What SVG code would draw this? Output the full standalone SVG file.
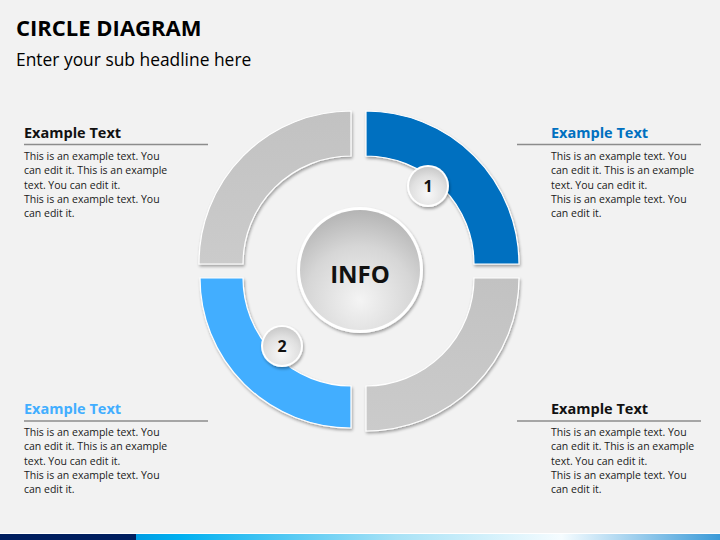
<svg xmlns="http://www.w3.org/2000/svg" width="720" height="540" viewBox="0 0 720 540">
<defs>
<style>
.title{font-family:"Open Sans","Liberation Sans",sans-serif;font-weight:bold;font-size:22px;fill:#000}
.sub{font-family:"Open Sans","Liberation Sans",sans-serif;font-size:17.4px;fill:#000}
.head{font-family:"Open Sans","Liberation Sans",sans-serif;font-weight:bold;font-size:14.5px}
.body{font-family:"Open Sans","Liberation Sans",sans-serif;font-size:10.5px;fill:#1a1a1a}
.rule{stroke:#8c8c8c;stroke-width:1.5}
.seg{stroke:#ffffff;stroke-width:1.2;filter:url(#sh)}
.badgeT{font-family:"Open Sans","Liberation Sans",sans-serif;font-weight:bold;font-size:16px;fill:#111;text-anchor:middle}
</style>
<filter id="sh" x="-20%" y="-20%" width="140%" height="140%">
<feGaussianBlur in="SourceAlpha" stdDeviation="1.5"/>
<feOffset dx="1" dy="1.5" result="b"/>
<feComponentTransfer><feFuncA type="linear" slope="0.35"/></feComponentTransfer>
<feMerge><feMergeNode/><feMergeNode in="SourceGraphic"/></feMerge>
</filter>
<linearGradient id="grey1" x1="0" y1="0" x2="0" y2="1">
<stop offset="0" stop-color="#c2c2c2"/><stop offset="1" stop-color="#cbcbcb"/>
</linearGradient>
<radialGradient id="ball" cx="0.5" cy="0.75" r="0.75">
<stop offset="0" stop-color="#f4f4f4"/><stop offset="0.6" stop-color="#d6d6d6"/><stop offset="1" stop-color="#b4b4b4"/>
</radialGradient>
<radialGradient id="ball2" cx="0.5" cy="0.7" r="0.75">
<stop offset="0" stop-color="#f8f8f8"/><stop offset="0.6" stop-color="#e0e0e0"/><stop offset="1" stop-color="#c4c4c4"/>
</radialGradient>
<linearGradient id="bar" x1="0" y1="0" x2="1" y2="0">
<stop offset="0" stop-color="#0a5bb0"/><stop offset="0.12" stop-color="#0088d6"/><stop offset="0.25" stop-color="#00b0f0"/><stop offset="0.55" stop-color="#a8e2f6"/><stop offset="0.78" stop-color="#f5fcff"/><stop offset="1" stop-color="#3a9ad8"/>
</linearGradient>
</defs>
<rect width="720" height="540" fill="#f2f2f2"/>
<g id="header">
<text class="title" x="16" y="36">CIRCLE DIAGRAM</text>
<text class="sub" x="16" y="66">Enter your sub headline here</text>
</g>
<g id="seg-tl"><path class="seg" fill="url(#grey1)" d="M351,111 L351,156 A108,108 0 0 0 243,264 L199,264 A152,152 0 0 1 351,111 Z"/></g>
<g id="seg-tr"><path class="seg" fill="#0070c0" d="M366,111 A153,153 0 0 1 519,264 L474,264 A108,108 0 0 0 366,156 Z"/></g>
<g id="seg-bl"><path class="seg" fill="#42aeff" d="M200,278 L243,278 A108,108 0 0 0 351,386 L351,428 A151,150 0 0 1 200,278 Z"/></g>
<g id="seg-br"><path class="seg" fill="url(#grey1)" d="M519,278 A153,153 0 0 1 366,431 L366,386 A108,108 0 0 0 474,278 Z"/></g>
<g id="center">
<circle cx="360" cy="270" r="63" fill="#ffffff" filter="url(#sh)"/>
<circle cx="360" cy="270" r="60" fill="url(#ball)"/>
<text x="360" y="283" font-family="Open Sans, Liberation Sans, sans-serif" font-weight="bold" font-size="24" fill="#111" text-anchor="middle">INFO</text>
</g>
<g id="badge1">
<circle cx="428" cy="186" r="21" fill="#ffffff" filter="url(#sh)"/>
<circle cx="428" cy="186" r="19" fill="url(#ball2)"/>
<text class="badgeT" x="428" y="192">1</text>
</g>
<g id="badge2">
<circle cx="282" cy="346" r="21" fill="#ffffff" filter="url(#sh)"/>
<circle cx="282" cy="346" r="19" fill="url(#ball2)"/>
<text class="badgeT" x="282" y="352">2</text>
</g>
<g id="text-tl">
<text class="head" x="24" y="138" fill="#111">Example Text</text>
<line class="rule" x1="24" y1="144.5" x2="208" y2="144.5"/>
<text class="body"><tspan x="24" y="160">This is an example text. You</tspan><tspan x="24" y="174">can edit it. This is an example</tspan><tspan x="24" y="188.5">text. You can edit it.</tspan><tspan x="24" y="203">This is an example text. You</tspan><tspan x="24" y="217">can edit it.</tspan></text>
</g>
<g id="text-tr">
<text class="head" x="551" y="138" fill="#0070c0">Example Text</text>
<line class="rule" x1="517" y1="144.5" x2="701" y2="144.5"/>
<text class="body"><tspan x="551" y="160">This is an example text. You</tspan><tspan x="551" y="174">can edit it. This is an example</tspan><tspan x="551" y="188.5">text. You can edit it.</tspan><tspan x="551" y="203">This is an example text. You</tspan><tspan x="551" y="217">can edit it.</tspan></text>
</g>
<g id="text-bl">
<text class="head" x="24" y="414" fill="#42aeff">Example Text</text>
<line class="rule" x1="24" y1="421" x2="208" y2="421"/>
<text class="body"><tspan x="24" y="436">This is an example text. You</tspan><tspan x="24" y="450">can edit it. This is an example</tspan><tspan x="24" y="464.5">text. You can edit it.</tspan><tspan x="24" y="479">This is an example text. You</tspan><tspan x="24" y="493">can edit it.</tspan></text>
</g>
<g id="text-br">
<text class="head" x="551" y="414" fill="#111">Example Text</text>
<line class="rule" x1="517" y1="421" x2="701" y2="421"/>
<text class="body"><tspan x="551" y="436">This is an example text. You</tspan><tspan x="551" y="450">can edit it. This is an example</tspan><tspan x="551" y="464.5">text. You can edit it.</tspan><tspan x="551" y="479">This is an example text. You</tspan><tspan x="551" y="493">can edit it.</tspan></text>
</g>
<g id="footer">
<rect x="0" y="533" width="720" height="1" fill="#ffffff"/>
<rect x="0" y="534" width="720" height="6" fill="url(#bar)"/>
<rect x="0" y="534" width="136" height="6" fill="#001f5f"/>
</g>
</svg>
